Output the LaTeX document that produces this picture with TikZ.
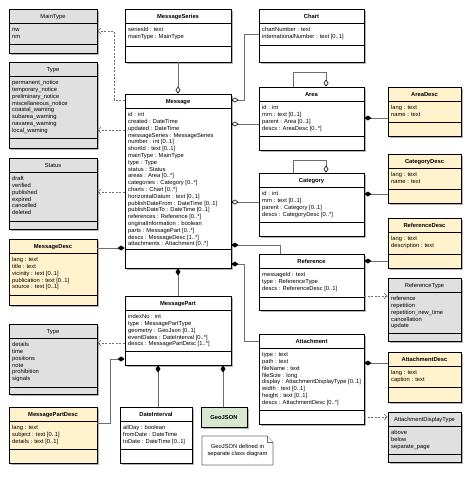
\documentclass[tikz,border=0pt]{standalone}
\usepackage{fontspec}
\setmainfont{Liberation Sans}
\usetikzlibrary{arrows.meta,fit,calc}
\definecolor{yel}{HTML}{FFF2CC}
\definecolor{enumg}{HTML}{E0E0E0}
\definecolor{geog}{HTML}{D8E8D0}
\definecolor{linec}{HTML}{6E6E6E}
\definecolor{shad}{HTML}{B4B4B4}
\newcommand\fsz{\fontsize{5.8}{6.8}\selectfont}
\tikzset{
  box/.style={draw=black, line width=0.9pt, inner sep=0pt},
  cls/.style={fill=white}, cls title/.style={font=\fsz\bfseries},
  dsc/.style={fill=yel}, dsc title/.style={font=\fsz\bfseries},
  enm/.style={fill=enumg}, enm title/.style={font=\fsz},
  ttl/.style={anchor=base, inner sep=0pt},
  attrs/.style={anchor=north west, inner sep=0pt, align=left, font=\fsz},
  sepl/.style={draw=black, line width=0.8pt},
  shadowbox/.style={fill=shad},
  conn/.style={draw=linec, line width=0.6pt},
  comp/.style={conn, -{Diamond[color=black,length=7pt,width=5pt]}},
  aggr/.style={conn, -{Diamond[color=black,fill=white,length=7pt,width=5pt]}},
  dep/.style={conn, dash pattern=on 2pt off 1.5pt, -{Straight Barb[length=3pt,width=5.5pt]}},
  notel/.style={draw=linec, line width=0.6pt, fill=white},
}
% #1 style, #2 name, #3 x1, #4 y1, #5 x2, #6 y2, #7 sep2, #8 title, #9 attrs
\newcommand\uml[9]{%
  \fill[shadowbox] ({#3+1.8},{#4+1.8}) rectangle ({#5+1.8},{#6+1.8});
  \node[box,#1,fit={(#3,#4) (#5,#6)}] (#2) {};
  \draw[sepl] (#3,{#4+14.5}) -- (#5,{#4+14.5});
  \draw[sepl] (#3,#7) -- (#5,#7);
  \node[ttl,#1 title] (#2-t) at ({(#3+#5)/2},{#4+9.5}) {#8};
  \node[attrs] (#2-a) at ({#3+3},{#4+18}) {\rule{0pt}{4.5pt}#9};
}
\begin{document}
\begin{tikzpicture}[x=1pt,y=-1pt]
\useasboundingbox[fill=white] (0,0) rectangle (474,477);

% left column
\uml{enm}{maintype}{9}{9}{97}{53}{44}{MainType}{nw\\nm}
\uml{enm}{type}{9}{62}{97}{148}{138}{Type}{permanent\_notice\\temporary\_notice\\preliminary\_notice\\miscellaneous\_notice\\coastal\_warning\\subarea\_warning\\navarea\_warning\\local\_warning}
\uml{enm}{status}{9}{158}{97}{229}{221}{Status}{draft\\verified\\published\\expired\\cancelled\\deleted}
\uml{dsc}{mdesc}{9}{239}{97}{305}{295}{MessageDesc}{lang : text\\title : text\\vicinity : text [0..1]\\publication : text [0..1]\\source : text [0..1]}
\uml{enm}{type2}{9}{324}{97}{394}{387}{Type}{details\\time\\positions\\note\\prohibition\\signals}
\uml{dsc}{mpdesc}{9}{407}{97}{463}{449}{MessagePartDesc}{lang : text\\subject : text [0..1]\\details : text [0..1]}

% middle column
\uml{cls}{ms}{125}{9}{231}{62}{46}{MessageSeries}{seriesId : text\\mainType : MainType}
\uml{cls}{msg}{125}{94}{231}{268}{249}{Message}{id : int\\created : DateTime\\updated : DateTime\\messageSeries : MessageSeries\\number : int [0..1]\\shortId : text [0..1]\\mainType : MainType\\type : Type\\status : Status\\areas : Area [0..*]\\categories : Category [0..*]\\charts : Chart [0..*]\\horizontalDatum : text [0..1]\\publishDateFrom : DateTime [0..1]\\publishDateTo : DateTime [0..1]\\references : Reference [0..*]\\originalInformation : boolean\\parts : MessagePart [0..*]\\descs : MessageDesc [1..*]\\attachments : Attachment [0..*]}
\uml{cls}{mp}{125}{296}{231}{365}{351}{MessagePart}{indexNo : int\\type : MessagePartType\\geometry : GeoJson [0..1]\\eventDates : DateInterval [0..*]\\descs : MessagePartDesc [1..*]}
\uml{cls}{di}{120}{407}{192}{463}{449}{DateInterval}{allDay : boolean\\fromDate : DateTime\\toDate : DateTime [0..1]}

% GeoJSON
\fill[shadowbox] (202.8,408.8) rectangle (248.8,428.8);
\node[box,fill=geog,fit={(201,407) (247,427)}] (geo) {};
\node[ttl,font=\fsz\bfseries] (geo-t) at (224,419.5) {GeoJSON};

% note
\draw[notel] (202,436) -- (267,436) -- (273,442) -- (273,465) -- (202,465) -- cycle;
\draw[notel] (267,436) -- (267,442) -- (273,442);
\node[font=\fsz, align=center, inner sep=0pt] (note) at (237.5,450.5) {GeoJSON defined in\\separate class diagram};

% right-middle column
\uml{cls}{chart}{259}{9}{364}{62}{45}{Chart}{chartNumber : text\\internationalNumber : text [0..1]}
\uml{cls}{area}{259}{87}{364}{150}{136}{Area}{id : int\\mrn : text [0..1]\\parent : Area [0..1]\\descs : AreaDesc [0..*]}
\uml{cls}{cat}{259}{173}{364}{236}{222}{Category}{id : int\\mrn : text [0..1]\\parent : Category [0..1]\\descs : CategoryDesc [0..*]}
\uml{cls}{ref}{259}{254}{364}{310}{297}{Reference}{messageId : text\\type : ReferenceType\\descs : ReferenceDesc [0..1]}
\uml{cls}{att}{259}{334}{364}{424}{410}{Attachment}{type : text\\path : text\\fileName : text\\fileSize : long\\display : AttachmentDisplayType [0..1]\\width : text [0..1]\\height : text [0..1]\\descs : AttachmentDesc [0..*]}

% right column
\uml{dsc}{adesc}{388}{87}{461}{136}{122}{AreaDesc}{lang : text\\name : text}
\uml{dsc}{cdesc}{388}{154}{461}{203}{189}{CategoryDesc}{lang : text\\name : text}
\uml{dsc}{rdesc}{388}{218}{461}{268}{254}{ReferenceDesc}{lang : text\\description : text}
\uml{enm}{rtype}{388}{278}{461}{341}{333}{ReferenceType}{reference\\repetition\\repetition\_new\_time\\cancellation\\update}
\uml{dsc}{atdesc}{388}{352}{461}{402}{387}{AttachmentDesc}{lang : text\\caption : text}
\uml{enm}{adtype}{388}{412}{461}{462}{454}{AttachmentDisplayType}{above\\below\\separate\_page}

% connectors: left side
\draw[dep] (msg.west |- 0,100) -- (114,100) -- (114,31) -- (maintype.east |- 0,31);
\draw[dep] (msg.west |- 0,130) -- (type.east |- 0,130);
\draw[dep] (msg.west |- 0,192) -- (status.east |- 0,192);
\draw[comp] (mdesc.east |- 0,248) -- (msg.west |- 0,248);
\draw[dep] (mp.west |- 0,343) -- (type2.east |- 0,343);
\draw[comp] (mpdesc.east |- 0,423) -- (110,423) -- (110,359) -- (mp.west |- 0,359);

% vertical
\draw[aggr] (ms.south -| 178,0) -- (msg.north -| 178,0);
\draw[comp] (mp.north -| 178,0) -- (msg.south -| 178,0);
\draw[comp] (di.north -| 158,0) -- (mp.south -| 158,0);
\draw[comp] (geo.north -| 223,0) -- (mp.south -| 223,0);

% right side of Message
\draw[aggr] (chart.west |- 0,34) -- (244,34) -- (244,100) -- (msg.east |- 0,100);
\draw[aggr] (area.west |- 0,124) -- (msg.east |- 0,124);
\draw[aggr] (cat.west |- 0,202) -- (msg.east |- 0,202);
\draw[comp] (ref.north -| 280,0) -- (280,245) -- (msg.east |- 0,245);
\draw[comp] (att.west |- 0,341) -- (244,341) -- (244,264) -- (msg.east |- 0,264);

% self associations
\draw[aggr] (area.north -| 293,0) -- (293,72) -- (326,72) -- (area.north -| 326,0);
\draw[aggr] (cat.north -| 293,0) -- (293,160) -- (326,160) -- (cat.north -| 326,0);

% desc compositions and types
\draw[comp] (adesc.west |- 0,118) -- (area.east |- 0,118);
\draw[comp] (cdesc.west |- 0,194) -- (cat.east |- 0,194);
\draw[comp] (rdesc.west |- 0,261) -- (ref.east |- 0,261);
\draw[dep] (ref.east |- 0,296) -- (rtype.west |- 0,296);
\draw[comp] (atdesc.west |- 0,363) -- (att.east |- 0,363);
\draw[dep] (att.east |- 0,417) -- (adtype.west |- 0,417);
\end{tikzpicture}
\end{document}
